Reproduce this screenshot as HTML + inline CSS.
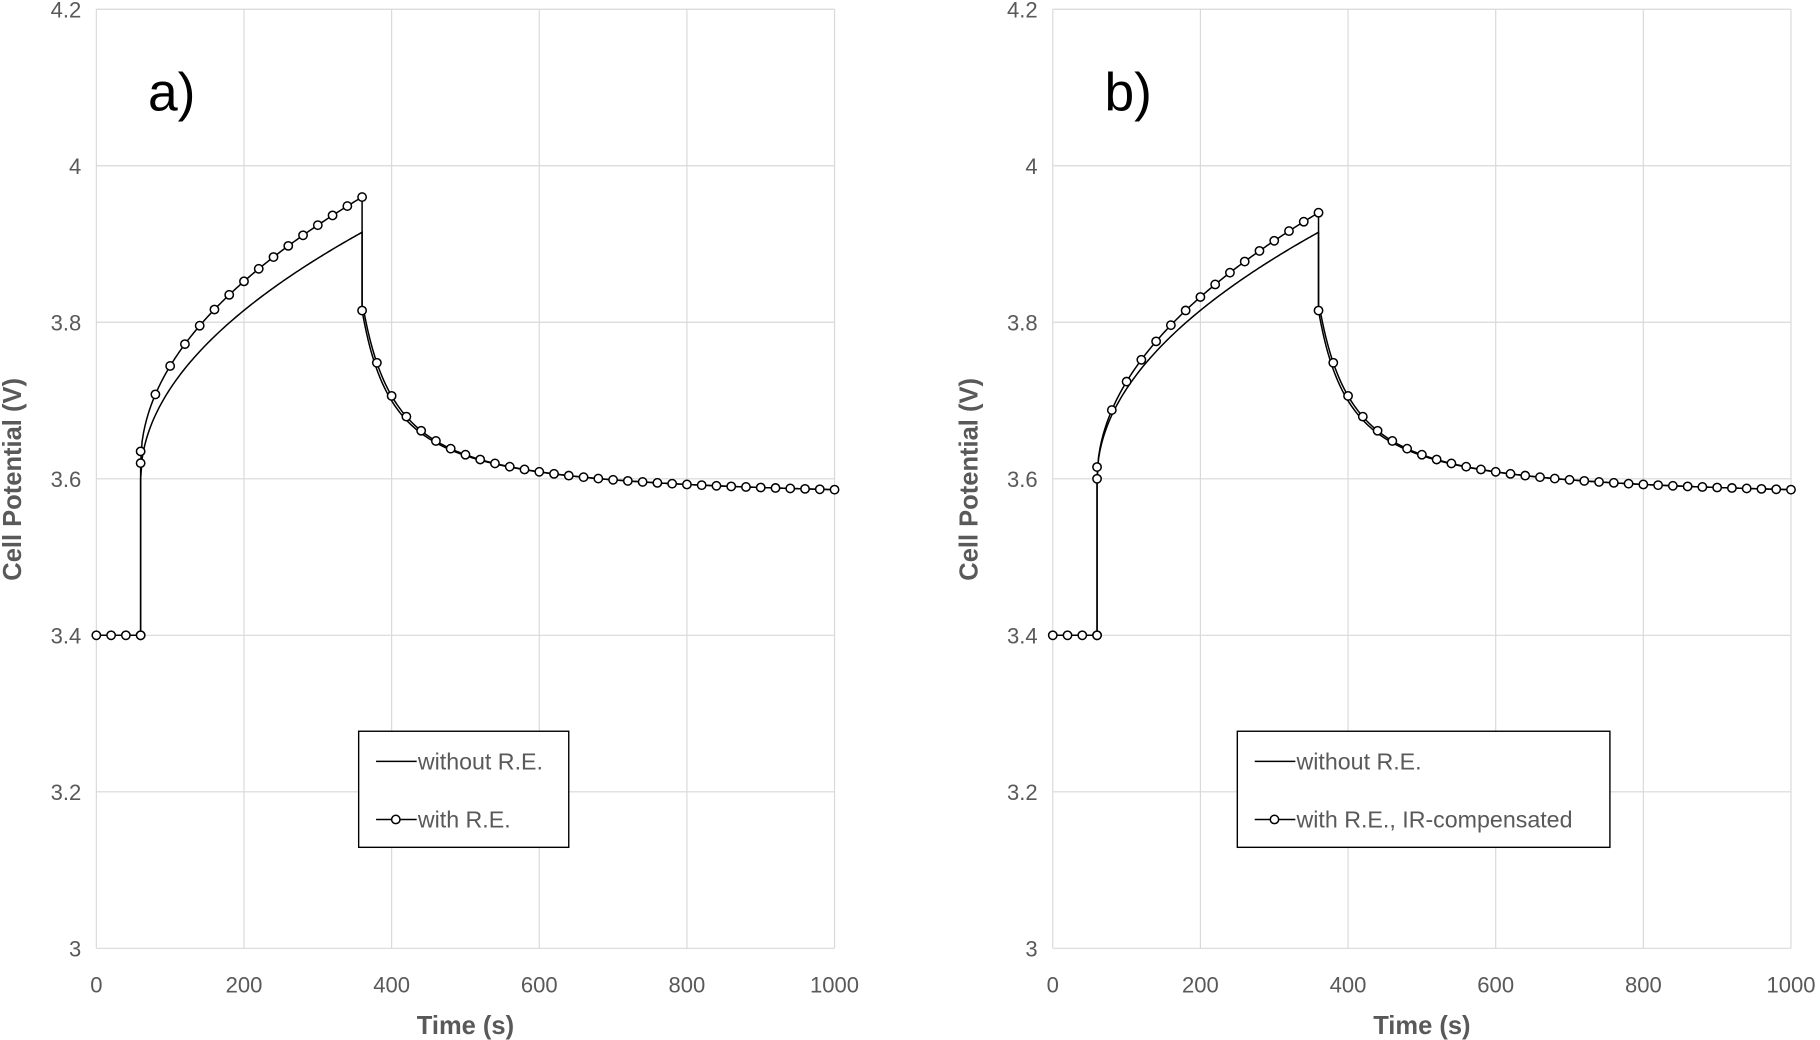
<!DOCTYPE html>
<html><head><meta charset="utf-8">
<style>
html,body{margin:0;padding:0;background:#fff;}
svg{display:block;}
text{font-family:"Liberation Sans",sans-serif;fill:#595959;}
</style></head>
<body>
<svg id="s" width="1820" height="1040" viewBox="0 0 1568 896" xmlns="http://www.w3.org/2000/svg"></svg>
<script>
const NS="http://www.w3.org/2000/svg";
const svg=document.getElementById('s');
function el(tag,attrs,txt){const e=document.createElementNS(NS,tag);for(const k in attrs)e.setAttribute(k,attrs[k]);if(txt!==undefined)e.textContent=txt;svg.appendChild(e);return e;}
function relax(t){return 3.57+0.245/(1+(t-360)/45);}
function without(t){if(t<60)return 3.4;return 3.6+0.315*Math.sqrt((t-60)/300);}
function chart(x0,label,v0,v1,legX,legW,legText){
  const X=t=>x0+t*0.636, Y=v=>817-(v-3)*674.2;
  // grid
  for(let i=1;i<=5;i++)el('line',{x1:X(i*200),x2:X(i*200),y1:Y(4.2),y2:Y(3),stroke:'#d9d9d9','stroke-width':1});
  for(let i=1;i<=6;i++){const v=3+i*0.2;el('line',{x1:X(0),x2:X(1000),y1:Y(v),y2:Y(v),stroke:'#d9d9d9','stroke-width':1});}
  el('line',{x1:X(0),x2:X(0),y1:Y(4.2),y2:Y(3),stroke:'#d9d9d9','stroke-width':1});
  el('line',{x1:X(0),x2:X(1000),y1:Y(3),y2:Y(3),stroke:'#d9d9d9','stroke-width':1});
  // ticks labels
  for(let i=0;i<=6;i++){const v=3+i*0.2;el('text',{x:X(0)-13,y:Y(v)+7,'text-anchor':'end','font-size':19},i==0?'3':(i==5?'4':v.toFixed(1)));}
  for(let i=0;i<=5;i++)el('text',{x:X(i*200),y:855,'text-anchor':'middle','font-size':19},String(i*200));
  el('text',{x:X(500),y:891,'text-anchor':'middle','font-size':22,'font-weight':'bold'},'Time (s)');
  el('text',{x:0,y:0,'text-anchor':'middle','font-size':22,'font-weight':'bold',transform:`translate(${x0-65},413) rotate(-90)`},'Cell Potential (V)');
  el('text',{x:X(70),y:95,'font-size':46,style:'fill:#000'},label);
  // without line
  let d='';
  for(let t=0;t<=1000;t+=2){let v;if(t<60)v=3.4;else if(t<=360)v=without(t);else v=relax(t);
    if(t==60){d+=`L${X(60)},${Y(3.4)}`;}
    d+=(d?'L':'M')+X(t)+','+Y(v);
    if(t==360)d+=`L${X(360)},${Y(3.815)}`;}
  el('path',{d:d,fill:'none',stroke:'#000','stroke-width':1.3});
  // with RE
  const w=t=>{if(t<60)return 3.4;if(t<=360)return v0+(v1-v0)*Math.sqrt((t-60)/300);return relax(t)+0.012*Math.exp(-(t-360)/60);};
  let d2='';
  for(let t=0;t<=1000;t+=2){let v=w(t);if(t==60)d2+=`L${X(60)},${Y(3.4)}`;d2+=(d2?'L':'M')+X(t)+','+Y(v);if(t==360)d2+=`L${X(360)},${Y(3.815)}`;}
  el('path',{d:d2,fill:'none',stroke:'#000','stroke-width':1.3});
  const pts=[];for(let t=0;t<=1000;t+=20){pts.push([t,w(t)]);if(t==60)pts.push([60,3.4]);if(t==360)pts.push([360,3.815]);}
  pts.push([60,3.4],[60,v0+0.015]);
  for(const [t,v] of pts)el('circle',{cx:X(t),cy:Y(v),r:3.6,fill:'#fff',stroke:'#000','stroke-width':1.3});
  // legend
  el('rect',{x:legX,y:630,width:legW,height:100,fill:'#fff',stroke:'#000','stroke-width':1.2});
  el('line',{x1:legX+15,x2:legX+50,y1:656,y2:656,stroke:'#000','stroke-width':1.3});
  el('text',{x:legX+51,y:663,'font-size':20},'without R.E.');
  el('line',{x1:legX+15,x2:legX+50,y1:706,y2:706,stroke:'#000','stroke-width':1.3});
  el('circle',{cx:legX+32,cy:706,r:3.6,fill:'#fff',stroke:'#000','stroke-width':1.3});
  el('text',{x:legX+51,y:713,'font-size':20},legText);
}
chart(83,'a)',3.62,3.96,309,181,'with R.E.');
chart(907,'b)',3.60,3.94,1066,321,'with R.E., IR-compensated');
</script>
</body></html>
